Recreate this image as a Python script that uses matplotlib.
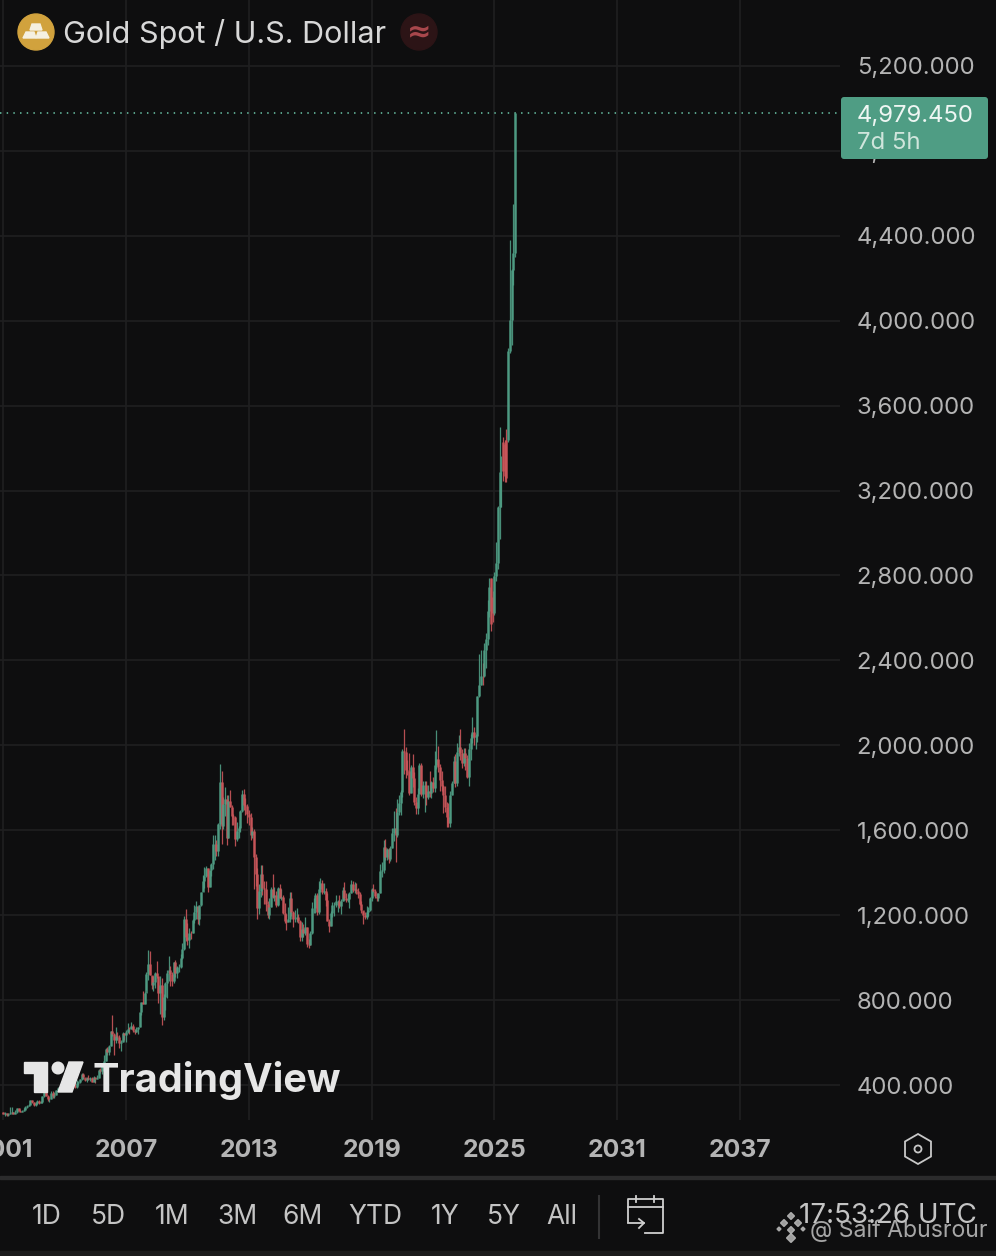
import matplotlib
matplotlib.use('Agg')
import matplotlib.pyplot as plt
from matplotlib.patches import Circle, FancyBboxPatch, Polygon, Rectangle, RegularPolygon
import numpy as np

# monthly candles, Jan 2001 - Jan 2026
first_year = 2001
opens = [272,265,267,258,264,266,271,265,273,293,279,275,
    276,282,297,302,308,327,318,304,313,323,317,319,
    347,368,347,335,336,364,346,354,375,385,384,398,
    416,399,396,427,388,394,393,391,408,415,428,453,
    438,422,434,428,435,414,437,429,433,473,464,496,
    513,569,556,582,654,642,614,633,624,599,604,646,
    635,650,665,663,680,660,650,665,673,743,789,783,
    834,923,972,917,871,885,926,913,833,872,718,815,
    880,928,942,922,891,979,926,954,955,996,1040,1182,
    1096,1081,1118,1115,1179,1213,1245,1181,1248,1307,1359,1386,
    1421,1332,1411,1439,1536,1536,1502,1628,1826,1620,1722,1747,
    1564,1737,1710,1669,1664,1560,1597,1610,1692,1773,1719,1714,
    1675,1664,1578,1595,1472,1394,1235,1313,1396,1327,1323,1253,
    1202,1240,1321,1284,1296,1246,1327,1282,1287,1210,1171,1167,
    1184,1283,1213,1183,1184,1190,1172,1095,1134,1115,1142,1065,
    1061,1118,1234,1235,1293,1215,1322,1351,1309,1316,1272,1173,
    1151,1210,1248,1249,1268,1268,1242,1269,1320,1280,1271,1275,
    1303,1345,1318,1325,1315,1299,1253,1223,1201,1192,1215,1222,
    1282,1321,1313,1292,1283,1305,1409,1413,1520,1472,1513,1464,
    1517,1589,1609,1577,1687,1730,1781,1975,1967,1886,1879,1777,
    1898,1847,1734,1707,1769,1906,1770,1814,1814,1757,1783,1774,
    1829,1797,1909,1937,1897,1837,1807,1766,1711,1661,1633,1768,
    1824,1928,1824,1969,1990,1962,1919,1965,1940,1849,1984,2036,
    2063,2039,2044,2230,2286,2327,2326,2447,2503,2635,2790,2700,
    2624,2798,2858,3123,3289,3430,3420,3440,3440,3858,4003,4239,
    4320]
closes = [265,267,258,264,266,271,265,273,293,279,275,276,
    282,297,302,308,327,318,304,313,323,317,319,347,
    368,347,335,336,364,346,354,375,385,384,398,416,
    399,396,427,388,394,393,391,408,415,428,453,438,
    422,434,428,435,414,437,429,433,473,464,496,513,
    569,556,582,654,642,614,633,624,599,604,646,635,
    650,665,663,680,660,650,665,673,743,789,783,834,
    923,972,917,871,885,926,913,833,872,718,815,880,
    928,942,922,891,979,926,954,955,996,1040,1182,1096,
    1081,1118,1115,1179,1213,1245,1181,1248,1307,1359,1386,1421,
    1332,1411,1439,1536,1536,1502,1628,1826,1620,1722,1747,1564,
    1737,1710,1669,1664,1560,1597,1610,1692,1773,1719,1714,1675,
    1664,1578,1595,1472,1394,1235,1313,1396,1327,1323,1253,1202,
    1240,1321,1284,1296,1246,1327,1282,1287,1210,1171,1167,1184,
    1283,1213,1183,1184,1190,1172,1095,1134,1115,1142,1065,1061,
    1118,1234,1235,1293,1215,1322,1351,1309,1316,1272,1173,1151,
    1210,1248,1249,1268,1268,1242,1269,1320,1280,1271,1275,1303,
    1345,1318,1325,1315,1299,1253,1223,1201,1192,1215,1222,1282,
    1321,1313,1292,1283,1305,1409,1413,1520,1472,1513,1464,1517,
    1589,1609,1577,1687,1730,1781,1975,1967,1886,1879,1777,1898,
    1847,1734,1707,1769,1906,1770,1814,1814,1757,1783,1774,1829,
    1797,1909,1937,1897,1837,1807,1766,1711,1661,1633,1768,1824,
    1928,1824,1969,1990,1962,1919,1965,1940,1849,1984,2036,2063,
    2039,2044,2230,2286,2327,2326,2447,2503,2635,2744,2570,2624,
    2798,2858,3123,3289,3289,3290,3270,3260,3858,4003,4239,4320,
    4979.45]
highs = [273,272,268,266,298,296,272,280,294,294,284,282,
    290,299,305,312,327,328,320,319,327,327,323,350,
    383,380,352,341,372,372,368,377,390,390,400,417,
    428,411,430,429,398,405,409,423,419,430,456,457,
    428,438,445,438,436,443,430,446,477,480,497,540,
    575,577,587,655,732,645,671,649,635,610,648,645,
    660,690,674,696,685,662,675,675,744,793,845,837,
    930,1034,1030,914,915,933,985,915,912,903,827,885,
    940,1006,960,933,981,989,961,968,1018,1070,1195,1227,
    1161,1139,1127,1180,1248,1266,1213,1250,1307,1388,1425,1432,
    1423,1412,1447,1576,1577,1556,1632,1911,1880,1757,1804,1764,
    1764,1791,1720,1676,1668,1640,1622,1695,1790,1796,1754,1722,
    1694,1682,1616,1605,1488,1422,1348,1434,1434,1361,1361,1268,
    1280,1332,1392,1331,1315,1332,1345,1324,1295,1255,1207,1238,
    1307,1307,1219,1224,1232,1205,1178,1169,1157,1191,1142,1088,
    1127,1263,1283,1303,1303,1362,1375,1367,1352,1326,1304,1180,
    1220,1264,1262,1295,1270,1296,1275,1331,1357,1306,1299,1308,
    1366,1362,1356,1353,1326,1309,1265,1220,1214,1243,1237,1284,
    1326,1347,1324,1303,1306,1439,1452,1555,1557,1518,1515,1524,
    1611,1689,1704,1747,1765,1789,1984,2075,1992,1933,1965,1906,
    1959,1872,1755,1798,1916,1916,1834,1833,1834,1814,1878,1831,
    1853,1974,2070,1998,1910,1879,1815,1807,1735,1730,1786,1833,
    1949,1960,2009,2049,2079,1984,1987,1987,1953,2010,2052,2135,
    2088,2052,2233,2431,2450,2387,2484,2531,2685,2790,2790,2726,
    2817,2956,3128,3500,3365,3452,3439,3489,3871,4381,4245,4550,
    4979.45]
lows = [262,255,255,254,263,264,263,265,270,278,272,271,
    277,282,292,301,308,316,302,303,312,312,313,317,
    345,346,323,319,335,340,341,352,374,370,381,398,
    393,390,393,371,375,385,385,387,399,411,425,430,
    420,412,424,420,414,413,411,430,432,456,454,490,
    513,540,542,583,632,542,599,613,576,560,602,612,
    602,645,638,663,650,641,648,642,672,729,780,780,
    846,895,917,850,845,856,902,786,735,681,705,752,
    810,890,865,865,880,908,904,931,952,993,1038,1076,
    1058,1045,1090,1115,1165,1180,1157,1156,1245,1314,1329,1378,
    1308,1331,1383,1416,1462,1478,1480,1605,1535,1604,1667,1532,
    1563,1710,1627,1627,1527,1549,1564,1590,1687,1694,1672,1636,
    1625,1554,1565,1321,1338,1180,1207,1285,1295,1251,1221,1187,
    1182,1238,1280,1268,1240,1241,1280,1273,1204,1161,1132,1170,
    1167,1197,1142,1170,1170,1162,1077,1077,1098,1106,1052,1046,
    1061,1111,1208,1208,1200,1207,1310,1300,1302,1241,1171,1122,
    1147,1191,1196,1240,1214,1236,1204,1267,1271,1261,1264,1236,
    1303,1307,1303,1301,1281,1250,1211,1160,1180,1182,1196,1221,
    1266,1310,1281,1266,1266,1306,1382,1400,1459,1458,1445,1454,
    1517,1548,1451,1568,1671,1671,1757,1863,1848,1860,1764,1775,
    1802,1717,1677,1677,1769,1761,1750,1687,1721,1746,1758,1753,
    1780,1780,1890,1872,1786,1784,1681,1688,1615,1617,1616,1765,
    1823,1804,1810,1949,1932,1893,1903,1884,1848,1810,1931,2009,
    2002,1984,2016,2228,2286,2286,2320,2364,2471,2604,2537,2583,
    2614,2772,2832,2970,3121,3246,3240,3240,3430,3850,3887,4170,
    4300]

year_ticks = [2001, 2007, 2013, 2019, 2025, 2031, 2037]
price_ticks = [400, 800, 1200, 1600, 2000, 2400, 2800, 3200, 3600, 4000, 4400, 4800, 5200]
last_price = 4979.45
ranges = ['1D', '5D', '1M', '3M', '6M', 'YTD', '1Y', '5Y', 'All']
range_x = [47, 108, 172, 237, 302, 375, 445, 504, 562]

BG = '#0e0e0f'
GRID = '#1f1f20'
GREEN = '#4f9d84'
RED = '#c9565a'
TXT = '#b4b4b4'
plt.rcParams['font.family'] = ['Inter', 'DejaVu Sans']

W, H = 996, 1256
fig = plt.figure(figsize=(W / 100, H / 100), dpi=100, facecolor=BG)
ax = fig.add_axes([0, (H - 1120) / H, 840 / W, 1120 / H], facecolor=BG)

# pixel calibration: 2007 at x=126, 20.47 px per year; 400 at y=1085, 0.2123 px per $
ax.set_xlim(2007 - 126 / 20.47, 2007 + (840 - 126) / 20.47)
ax.set_ylim(400 - 35 / 0.2123, 400 + 1085 / 0.2123)

x = first_year + np.arange(len(closes)) / 12
o, c = np.array(opens), np.array(closes)
cols = np.where(c >= o, GREEN, RED)

ax.grid(True, color=GRID, lw=1.2)
ax.set_axisbelow(True)
ax.vlines(x, lows, highs, colors=cols, lw=0.9, alpha=0.9, zorder=3)
ax.vlines(x, np.minimum(o, c), np.maximum(o, c), colors=cols, lw=1.9, alpha=0.85, zorder=3)
ax.axhline(last_price, color='#5fae95', lw=1.3, ls=(0, (0.8, 2.9)), zorder=2)

ax.set_xticks(year_ticks, [str(y) for y in year_ticks])
ax.set_yticks(price_ticks, [f'{p:,.3f}' for p in price_ticks])
ax.yaxis.tick_right()
ax.tick_params(axis='both', length=0)
ax.tick_params(axis='y', labelsize=17.2, labelcolor=TXT, pad=12)
ax.tick_params(axis='x', labelsize=17.8, labelcolor=TXT, pad=14)
for t in ax.get_xticklabels():
    t.set_fontweight('bold')
for s in ax.spines.values():
    s.set_visible(False)

# overlay in pixel coords for the app chrome
ov = fig.add_axes([0, 0, 1, 1], facecolor='none')
ov.set_xlim(0, W)
ov.set_ylim(H, 0)
ov.axis('off')

# header
ov.add_patch(Circle((36, 32), 18, color='#d1a23d'))
ov.add_patch(Polygon([(32, 24), (40, 24), (42, 30), (30, 30)], color='#f5f0e0'))
ov.add_patch(Polygon([(26, 32), (34, 32), (36, 38), (23, 38)], color='#f5f0e0'))
ov.add_patch(Polygon([(38, 32), (46, 32), (49, 38), (36, 38)], color='#f5f0e0'))
ov.text(63, 34, 'Gold Spot / U.S. Dollar', color='#d8d8d8', fontsize=22, va='center', ha='left')
ov.add_patch(Circle((419, 32), 18, color='#2c1416'))
ov.text(419, 32, '≈', color='#a8474c', fontsize=21, fontweight='bold', va='center', ha='center',
        family='DejaVu Sans')

# price badge
ov.add_patch(FancyBboxPatch((841, 97), 147, 62, boxstyle='round,pad=0,rounding_size=3', fc=GREEN, ec='none', zorder=5))
ov.text(857, 116, '4,979.450', color='#eef6f3', fontsize=17.2, va='center', ha='left', zorder=6)
ov.text(857, 143, '7d 5h', color='#cfe5dc', fontsize=17.2, va='center', ha='left', zorder=6)

# TradingView watermark
ov.add_patch(Polygon([(24, 1062), (47, 1062), (47, 1092), (34, 1092), (34, 1073), (24, 1073)], color='#e6e6e6', zorder=6))
ov.add_patch(Circle((58, 1068), 5.8, color='#e6e6e6', zorder=6))
ov.add_patch(Polygon([(69, 1062), (83, 1062), (72, 1092), (58, 1092)], color='#e6e6e6', zorder=6))
ov.text(93, 1080, 'TradingView', color='#e6e6e6', fontsize=28.5, fontweight='bold', va='center', ha='left', zorder=6)

# settings hexagon
ov.add_patch(RegularPolygon((918, 1149), 6, radius=15, fc='none', ec='#c8c8c8', lw=1.3))
ov.add_patch(Circle((918, 1149), 3.5, fc='none', ec='#c8c8c8', lw=1.3))

# bottom bar
ov.add_patch(Rectangle((0, 1176), W, 2.5, color='#2b2b2c'))
ov.add_patch(Rectangle((0, 1251), W, 5, color='#1b1b1c'))
for lab, lx in zip(ranges, range_x):
    ov.text(lx, 1217, lab, color='#c4c4c4', fontsize=19, va='center', ha='center')
ov.plot([599, 599], [1196, 1238], color='#333334', lw=1.5)

# calendar icon
cal = '#cfcfcf'
ov.plot([628, 628, 663, 663, 645], [1222, 1199, 1199, 1233, 1233], color=cal, lw=1.3)
ov.plot([628, 663], [1207, 1207], color=cal, lw=1.3)
ov.plot([636, 636], [1196, 1202], color=cal, lw=1.3)
ov.plot([654, 654], [1196, 1202], color=cal, lw=1.3)
ov.plot([628, 644], [1223, 1223], color=cal, lw=1.3)
ov.plot([639, 644, 639], [1219, 1223, 1228], color=cal, lw=1.3)

# clock and Binance-style signature on top of it
ov.text(977, 1216, '17:53:26 UTC', color='#c4c4c4', fontsize=20, va='center', ha='right')
sig = '#b8b8b8'
for dx, dy, r in [(0, -10, 3.5), (-7, -3, 3.5), (7, -3, 3.5), (0, 4, 3.5), (-12, 3, 2), (12, 3, 2), (0, 12, 4.5)]:
    ov.add_patch(RegularPolygon((791 + dx, 1226 + dy), 4, radius=r, color=sig, alpha=0.85))
ov.text(987, 1231, '@ Saif Abusrour', color=sig, fontsize=16.6, va='center', ha='right', alpha=0.9)

fig.savefig('out.png', dpi=100, facecolor=BG)
